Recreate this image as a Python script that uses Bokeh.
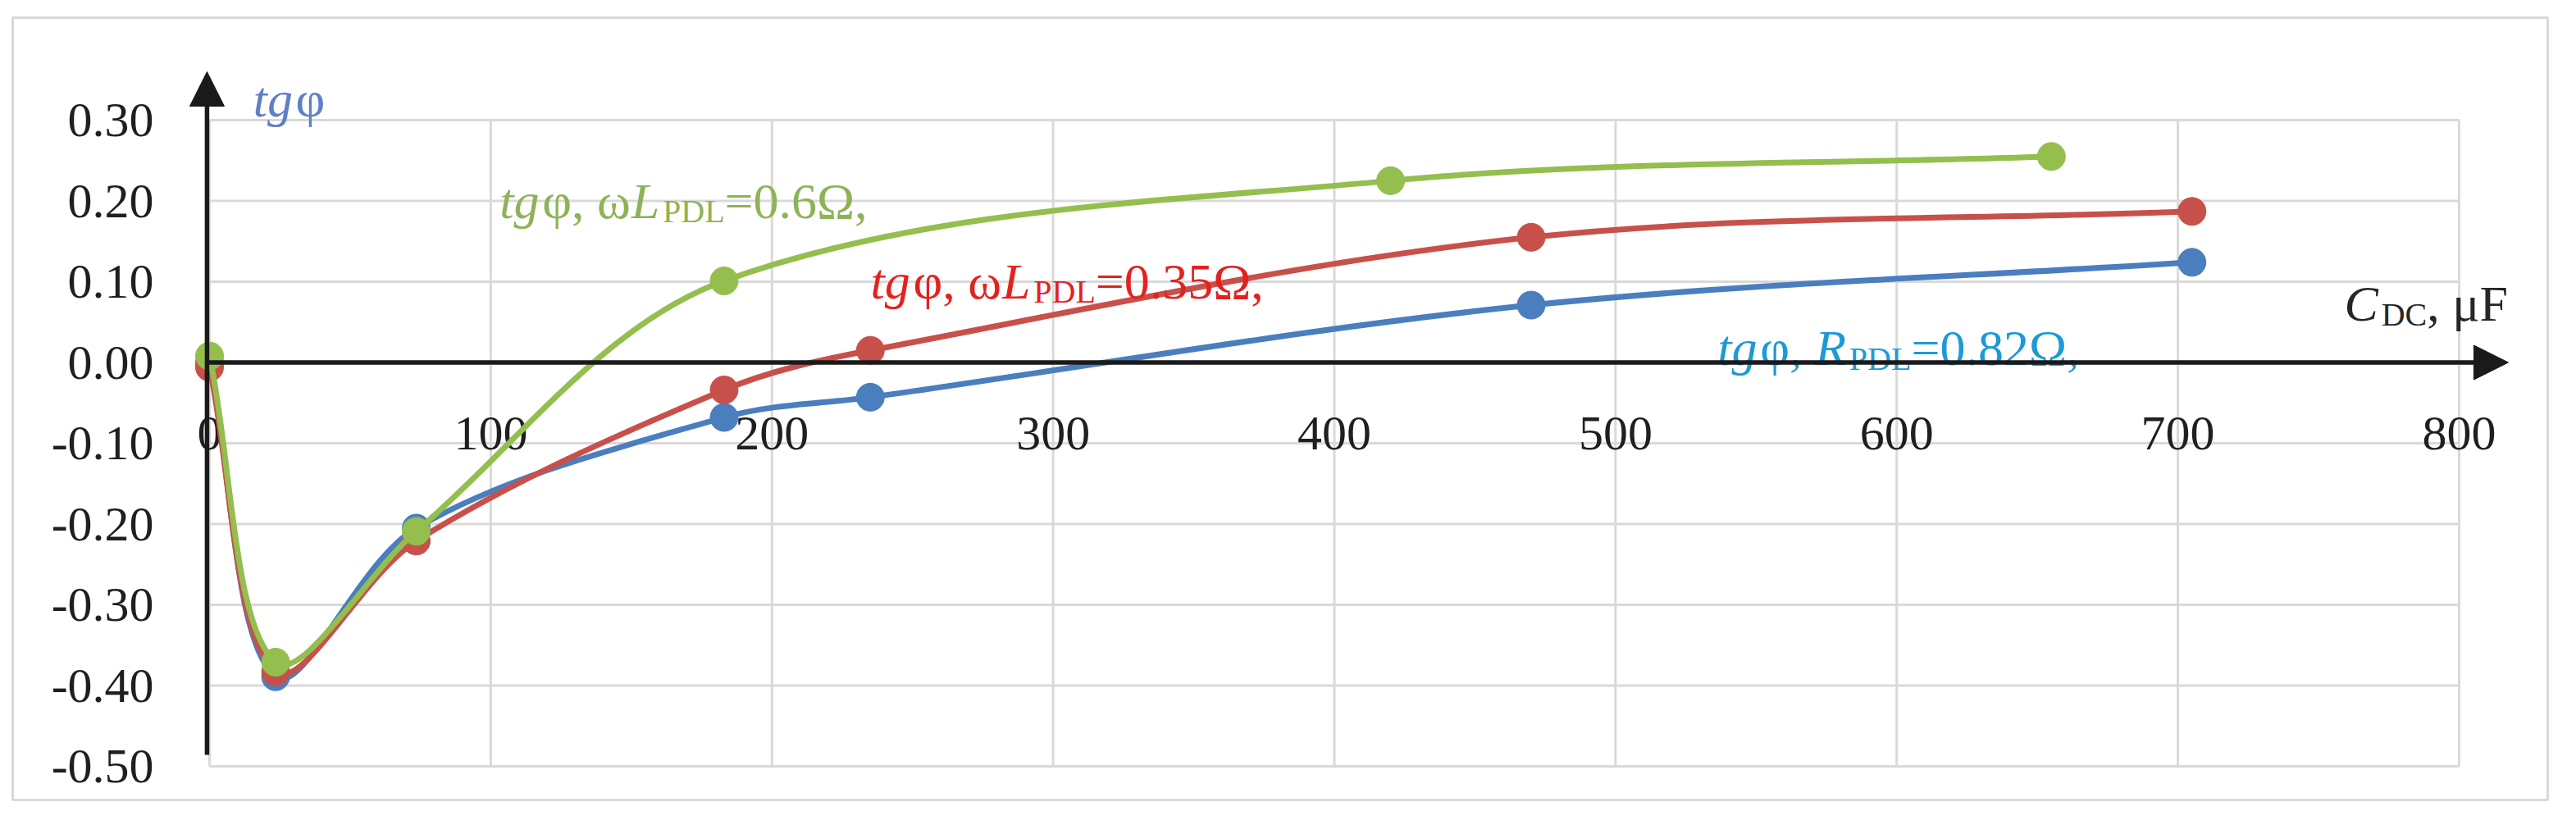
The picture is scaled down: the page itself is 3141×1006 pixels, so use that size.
import numpy as np
from bokeh.plotting import figure
from bokeh.models import ColumnDataSource, Range1d, Arrow, NormalHead
from bokeh.core.properties import value
from bokeh.embed import file_html
from bokeh.resources import INLINE

# ---------------- data ----------------
x_blue = [0, 23.5, 73.5, 183, 235, 470, 705]
y_blue = [0.000, -0.389, -0.205, -0.068, -0.043, 0.071, 0.124]

x_red = [0, 23.5, 73.5, 183, 235, 470, 705]
y_red = [-0.006, -0.383, -0.221, -0.034, 0.015, 0.155, 0.187]

x_green = [0, 23.5, 73.5, 183, 420, 655]
y_green = [0.008, -0.371, -0.209, 0.101, 0.225, 0.255]

x_ticks = [0, 100, 200, 300, 400, 500, 600, 700, 800]
x_tick_labels = ["0", "100", "200", "300", "400", "500", "600", "700", "800"]
y_ticks = [-0.5, -0.4, -0.3, -0.2, -0.1, 0.0, 0.1, 0.2, 0.3]
y_tick_labels = ["-0.50", "-0.40", "-0.30", "-0.20", "-0.10", "0.00", "0.10", "0.20", "0.30"]

label_green = [("tg", "it"), ("φ, ω", "reg"), ("L", "it"), ("PDL", "sub"), ("=0.6Ω,", "reg")]
label_red = [("tg", "it"), ("φ, ω", "reg"), ("L", "it"), ("PDL", "sub"), ("=0.35Ω,", "reg")]
label_blue = [("tg", "it"), ("φ, ", "reg"), ("R", "it"), ("PDL", "sub"), ("=0.82Ω,", "reg")]
label_x = [("C", "it"), ("DC", "sub"), (", μF", "reg")]
label_y = [("tg", "it"), ("φ", "reg")]

# ---------------- styles ----------------
C_BLUE, C_RED, C_GREEN = "#4A7EBE", "#C8504B", "#94BE4E"
T_BLUE, T_RED, T_GREEN, T_Y, T_X = "#1C9AD6", "#E3221E", "#8DB356", "#5F7FC6", "#262626"
GRID = "#D9D9D9"
AXIS = "#1A1A1A"
FONT = "Liberation Serif"
MAIN_SIZE, SUB_SIZE = 62, 40

X0, X1 = -70.0, 831.5
Y0, Y1 = -0.5416, 0.4269
FRAME_W, FRAME_H = 3091, 954

p = figure(width=3125, height=990, output_backend="svg", toolbar_location=None,
           x_axis_location=None, y_axis_location=None,
           x_range=Range1d(X0, X1), y_range=Range1d(Y0, Y1),
           min_border_left=15, min_border_right=19, min_border_top=21, min_border_bottom=15,
           background_fill_color="white", border_fill_color="white")
p.grid.visible = False
p.outline_line_color = GRID
p.outline_line_width = 3

# grid lines
p.segment(x0=x_ticks, y0=[y_ticks[0]] * len(x_ticks), x1=x_ticks, y1=[y_ticks[-1]] * len(x_ticks),
          line_color=GRID, line_width=3)
p.segment(x0=[x_ticks[0]] * len(y_ticks), y0=y_ticks, x1=[x_ticks[-1]] * len(y_ticks), y1=y_ticks,
          line_color=GRID, line_width=3)

# tick labels
p.text(x=[-19.8] * len(y_ticks), y=y_ticks, text=y_tick_labels, text_align="right",
       text_baseline="middle", text_font=value(FONT), text_font_size="60px", text_color="#1F1F1F")
p.text(x=x_ticks, y=[-0.0878] * len(x_ticks), text=x_tick_labels, text_align="center",
       text_baseline="middle", text_font=value(FONT), text_font_size="60px", text_color="#1F1F1F")

SX = FRAME_W / (X1 - X0)   # px per x unit
SY = FRAME_H / (Y1 - Y0)   # px per y unit


def bezier_source(xs, ys):
    """Smoothed (chord-length Catmull-Rom) cubic Bezier segments through the data points."""
    pts = np.column_stack([xs, ys]).astype(float)
    n = len(pts)
    scr = pts * np.array([SX, SY])
    d = [np.hypot(*(scr[i + 1] - scr[i])) for i in range(n - 1)]
    out = {k: [] for k in ("x0", "y0", "x1", "y1", "cx0", "cy0", "cx1", "cy1")}
    for i in range(n - 1):
        dp = d[i - 1] if i > 0 else 0.0
        dn = d[i + 1] if i + 1 < n - 1 else 0.0
        pm = pts[max(i - 1, 0)]
        pp = pts[min(i + 2, n - 1)]
        c1 = pts[i] + (pts[i + 1] - pm) * d[i] / (3.0 * (dp + d[i]))
        c2 = pts[i + 1] - (pp - pts[i]) * d[i] / (3.0 * (d[i] + dn))
        out["x0"].append(pts[i][0]); out["y0"].append(pts[i][1])
        out["x1"].append(pts[i + 1][0]); out["y1"].append(pts[i + 1][1])
        out["cx0"].append(c1[0]); out["cy0"].append(c1[1])
        out["cx1"].append(c2[0]); out["cy1"].append(c2[1])
    return ColumnDataSource(out)


for xs, ys, col in ((x_blue, y_blue, C_BLUE), (x_red, y_red, C_RED), (x_green, y_green, C_GREEN)):
    p.bezier(x0="x0", y0="y0", x1="x1", y1="y1", cx0="cx0", cy0="cy0", cx1="cx1", cy1="cy1",
             source=bezier_source(xs, ys), line_color=col, line_width=7, line_cap="round")
    p.scatter(x=xs, y=ys, size=34, fill_color=col, line_color=col)

# axes arrows
p.add_layout(Arrow(end=NormalHead(size=42, fill_color=AXIS, line_color=AXIS),
                   x_start=-0.5, y_start=0.0, x_end=817.5, y_end=0.0,
                   line_color=AXIS, line_width=5.5))
p.add_layout(Arrow(end=NormalHead(size=42, fill_color=AXIS, line_color=AXIS),
                   x_start=-0.9, y_start=-0.4858, x_end=-0.9, y_end=0.3599,
                   line_color=AXIS, line_width=5.5))

# rich-text labels
W_REG = {" ": 0.25, ",": 0.25, ".": 0.25, "=": 0.564, "Ω": 0.76, "φ": 0.58, "ω": 0.67,
         "μ": 0.53, "P": 0.556, "D": 0.722, "L": 0.611, "C": 0.667, "F": 0.556}
W_IT = {"t": 0.278, "g": 0.5, "L": 0.556, "R": 0.611, "C": 0.667}


def text_width(s, italic, size):
    table = W_IT if italic else W_REG
    w = sum(table.get(ch, 0.5) for ch in s)
    if italic:
        w += 0.06
    return w * size


def rich_label(x, y, segments, color):
    off = 0.0
    for s, style in segments:
        size = SUB_SIZE if style == "sub" else MAIN_SIZE
        italic = style == "it"
        p.text(x=[x], y=[y], text=[s], x_offset=off, y_offset=13 if style == "sub" else 0,
               text_font=value(FONT), text_font_size=f"{size}px",
               text_font_style="italic" if italic else "normal",
               text_color=color, text_align="left", text_baseline="alphabetic")
        off += text_width(s, italic, size)


rich_label(15.5, 0.3254, label_y, T_Y)
rich_label(103.2, 0.2005, label_green, T_GREEN)
rich_label(235.1, 0.1010, label_red, T_RED)
rich_label(536.3, 0.0178, label_blue, T_BLUE)
rich_label(759.2, 0.0726, label_x, T_X)

open("out.html", "w").write(file_html(p, INLINE))
